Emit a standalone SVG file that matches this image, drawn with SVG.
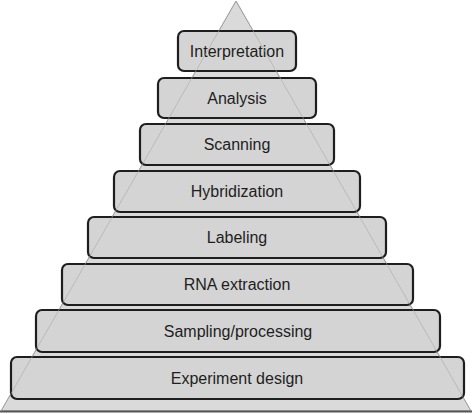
<svg xmlns="http://www.w3.org/2000/svg" width="474" height="414" viewBox="0 0 474 414">
<style>
.box{fill:#d4d4d4;stroke:#1e1e1e;stroke-width:2.2}
.lbl{font-family:"Liberation Sans",Arial,sans-serif;font-size:16px;fill:#1e1e1e;text-anchor:middle;dominant-baseline:central}
.edge{fill:none;stroke:#a8a8a8;stroke-width:1;opacity:0.6}
</style>
<rect width="474" height="414" fill="#ffffff"/>
<g id="pyramid">
<polygon points="236,1 1,411 471,411" fill="#dadada" stroke="#9a9a9a" stroke-width="1"/>
<line x1="0" y1="411.5" x2="472" y2="411.5" stroke="#555" stroke-width="2"/>
</g>
<g id="connectors"></g>
<g id="n1"><rect class="box" x="178" y="31" width="118" height="40" rx="6"/><text class="lbl" x="237" y="51">Interpretation</text></g>
<g id="n2"><rect class="box" x="158" y="78" width="158" height="40" rx="6"/><text class="lbl" x="237" y="98">Analysis</text></g>
<g id="n3"><rect class="box" x="140" y="124" width="194" height="41" rx="6"/><text class="lbl" x="237" y="144.5">Scanning</text></g>
<g id="n4"><rect class="box" x="114" y="171" width="246" height="41" rx="6"/><text class="lbl" x="237" y="191.5">Hybridization</text></g>
<g id="n5"><rect class="box" x="88" y="217" width="298" height="41" rx="6"/><text class="lbl" x="237" y="237.5">Labeling</text></g>
<g id="n6"><rect class="box" x="62" y="264" width="351" height="41" rx="6"/><text class="lbl" x="237" y="284.5">RNA extraction</text></g>
<g id="n7"><rect class="box" x="36" y="310" width="404" height="42" rx="6"/><text class="lbl" x="238" y="331">Sampling/processing</text></g>
<g id="n8"><rect class="box" x="11" y="357" width="453" height="42" rx="6"/><text class="lbl" x="237" y="378">Experiment design</text></g>
<g id="edges-over">
<polyline class="edge" points="1,411 236,1 471,411"/>
</g>
</svg>
